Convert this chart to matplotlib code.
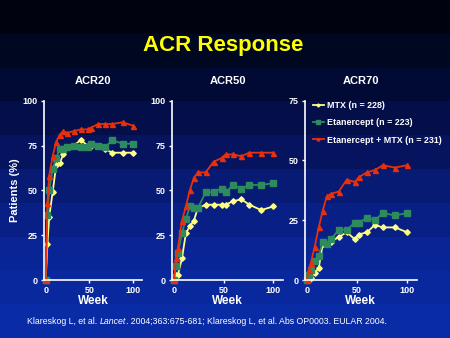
import matplotlib
matplotlib.use("Agg")
import matplotlib.pyplot as plt
import numpy as np

plt.rcParams["font.family"] = ["Liberation Sans", "DejaVu Sans"]

weeks = [0, 2, 4, 8, 12, 16, 20, 24, 32, 40, 48, 52, 60, 68, 76, 88, 100]

acr20_mtx = [0, 20, 35, 49, 64, 65, 70, 74, 75, 78, 75, 75, 75, 73, 71, 71, 71]
acr20_eta = [0, 36, 50, 62, 68, 73, 73, 74, 75, 74, 74, 76, 75, 74, 78, 76, 76]
acr20_combo = [0, 43, 58, 69, 77, 81, 83, 82, 83, 84, 84, 85, 87, 87, 87, 88, 86]

acr50_mtx = [0, 3, 3, 12, 26, 30, 33, 40, 42, 42, 42, 42, 44, 45, 42, 39, 41]
acr50_eta = [0, 8, 15, 26, 34, 41, 40, 40, 49, 49, 51, 49, 53, 51, 53, 53, 54]
acr50_combo = [0, 12, 18, 33, 41, 50, 57, 60, 60, 66, 68, 70, 70, 69, 71, 71, 71]

acr70_mtx = [0, 0, 1, 3, 5, 15, 15, 16, 18, 20, 17, 19, 20, 23, 22, 22, 20]
acr70_eta = [0, 2, 4, 8, 10, 16, 15, 17, 21, 21, 24, 24, 26, 25, 28, 27, 28]
acr70_combo = [0, 4, 7, 14, 22, 29, 35, 36, 37, 42, 41, 43, 45, 46, 48, 47, 48]

panels = ["ACR20", "ACR50", "ACR70"]
y_max = [100, 100, 75]
series_names = ["MTX (n = 228)", "Etanercept (n = 223)", "Etanercept + MTX (n = 231)"]

data = [
    (acr20_mtx, acr20_eta, acr20_combo),
    (acr50_mtx, acr50_eta, acr50_combo),
    (acr70_mtx, acr70_eta, acr70_combo),
]

colors = ["#ffff88", "#2e8b5e", "#e8300c"]
markers = ["D", "s", "^"]
msizes = [2.8, 4.0, 3.6]

W, H = 450, 338
fig = plt.figure(figsize=(4.5, 3.38), dpi=100)

# stepped dark-to-blue background
bg = fig.add_axes([0, 0, 1, 1])
band_cols = ["#00030f", "#000720", "#000a34", "#040f4a", "#061460", "#071a74",
             "#081f86", "#092494", "#0a289e", "#0a2ba6"]
rgb = np.array([[int(c[i:i + 2], 16) / 255 for i in (1, 3, 5)] for c in band_cols])
img = np.repeat(rgb[:, None, :], 2, axis=1)
bg.imshow(img, aspect="auto", extent=[0, 1, 0, 1], interpolation="nearest")
bg.set_axis_off()

# pixel boxes: left, right
boxes = [(43.9, 142.0), (172.0, 283.0), (304.7, 417.0)]
top_px, bot_px = 100.7, 280.0

for i, (l, r) in enumerate(boxes):
    ax = fig.add_axes([l / W, 1 - bot_px / H, (r - l) / W, (bot_px - top_px) / H])
    ax.set_facecolor("none")
    for k in range(3):
        ax.plot(weeks, data[i][k], color=colors[k], marker=markers[k],
                markersize=msizes[k], linewidth=1.3, label=series_names[k],
                clip_on=False)
    ax.set_xlim(-2, 110)
    ax.set_ylim(0, y_max[i])
    ax.set_xticks([0, 50, 100])
    ax.set_yticks(np.arange(0, y_max[i] + 1, 25))
    for s in ("top", "right"):
        ax.spines[s].set_visible(False)
    for s in ("left", "bottom"):
        ax.spines[s].set_color("white")
        ax.spines[s].set_linewidth(1.2)
    ax.tick_params(colors="white", labelsize=6.5, length=2.5, width=1, pad=2)
    for lab in ax.get_xticklabels() + ax.get_yticklabels():
        lab.set_fontweight("bold")
    ax.set_xlabel("Week", color="white", fontsize=8.5, fontweight="bold", labelpad=0)
    ax.set_title(panels[i], color="white", fontsize=8, fontweight="bold", pad=12)
    last_ax = ax

leg = last_ax.legend(loc="upper left", bbox_to_anchor=(0.0, 1.045), frameon=False,
                     prop={"size": 6.4, "weight": "bold"}, handlelength=1.3,
                     handletextpad=0.3, labelspacing=0.95, markerscale=0.55)
for t in leg.get_texts():
    t.set_color("white")

fig.text(0.034, 1 - 190 / H, "Patients (%)", color="white", fontsize=8,
         fontweight="bold", rotation=90, ha="center", va="center")

fig.text(0.496, 1 - 45 / H, "ACR Response", color="#ffff00", fontsize=16,
         fontweight="bold", ha="center", va="center")

# footnote with italic journal name
fig.canvas.draw()
renderer = fig.canvas.get_renderer()
x0 = 27 / W
yf = 1 - 321 / H
parts = [("Klareskog L, et al. ", "normal"), ("Lancet", "italic"),
         (". 2004;363:675-681; Klareskog L, et al. Abs OP0003. EULAR 2004.", "normal")]
for txt, style in parts:
    t = fig.text(x0, yf, txt, color="white", fontsize=6.3, style=style,
                 ha="left", va="center")
    bb = t.get_window_extent(renderer)
    x0 += bb.width / W

fig.savefig("out.png", dpi=100)
